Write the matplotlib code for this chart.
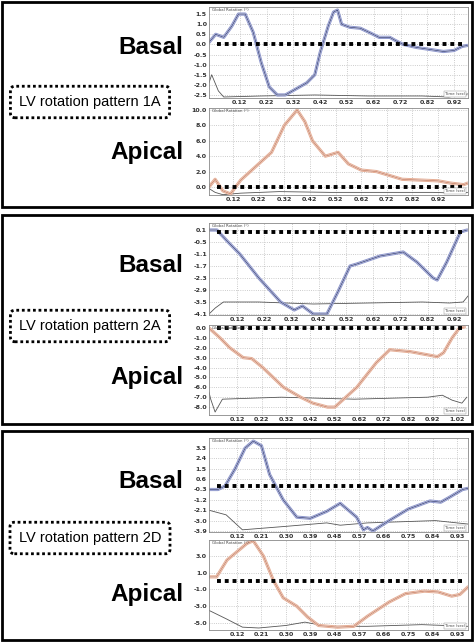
import matplotlib
matplotlib.use("Agg")
import matplotlib.pyplot as plt
import numpy as np
from matplotlib.patches import Rectangle

W, H = 474, 642
# ---- data ----
p1_basal_t = [0.005,0.03,0.06,0.09,0.115,0.14,0.17,0.2,0.23,0.26,0.29,0.33,0.37,0.40,0.42,0.45,0.47,0.485,0.50,0.53,0.57,0.61,0.64,0.68,0.70,0.73,0.78,0.83,0.88,0.92,0.95,0.97]
p1_basal_v = [0.1,0.5,0.35,0.9,1.5,1.5,0.6,-0.9,-2.1,-2.5,-2.5,-2.2,-1.9,-1.5,-0.4,0.9,1.6,1.7,1.0,0.85,0.8,0.55,0.35,0.35,0.2,0.0,-0.15,-0.25,-0.35,-0.3,-0.1,-0.05]
p1_basal_g_t = [0.005,0.015,0.04,0.06,0.2,0.4,0.6,0.8,0.9,0.95,0.97]
p1_basal_g_v = [-1.9,-1.5,-2.3,-2.6,-2.55,-2.5,-2.55,-2.55,-2.6,-2.5,-2.45]
p1_apical_t = [0.026,0.05,0.08,0.11,0.15,0.22,0.27,0.32,0.37,0.40,0.43,0.48,0.53,0.57,0.62,0.68,0.73,0.78,0.85,0.92,0.97,1.02,1.035]
p1_apical_v = [0.0,1.0,-0.5,-0.9,0.9,3.0,4.5,8.0,10.0,8.5,6.0,4.0,4.5,3.0,2.2,2.0,1.5,1.0,0.9,0.8,0.5,0.3,0.5]
p1_apical_g_t = [0.026,0.05,0.08,0.15,0.3,0.5,0.7,0.9,1.0,1.035]
p1_apical_g_v = [-0.2,-0.7,-1.0,-0.8,-0.6,-0.7,-0.7,-0.7,-0.8,-0.7]

p2_basal_t = [0.017,0.046,0.087,0.13,0.2,0.28,0.33,0.36,0.38,0.40,0.45,0.49,0.535,0.56,0.645,0.73,0.78,0.84,0.855,0.89,0.94,0.965]
p2_basal_v = [0.1,0.1,-0.5,-1.1,-2.3,-3.5,-3.9,-3.7,-3.9,-4.1,-4.1,-3.0,-1.7,-1.6,-1.2,-1.0,-1.5,-2.3,-2.4,-1.5,0.0,0.1]
p2_basal_g_t = [0.017,0.04,0.07,0.2,0.4,0.6,0.8,0.9,0.95,0.968]
p2_basal_g_v = [-4.1,-3.8,-3.5,-3.5,-3.6,-3.55,-3.5,-3.55,-3.5,-3.2]
p2_apical_t = [0.005,0.05,0.09,0.145,0.18,0.225,0.31,0.38,0.43,0.49,0.52,0.61,0.69,0.745,0.83,0.94,0.965,1.0,1.03,1.05]
p2_apical_v = [0.0,-1.0,-2.0,-3.0,-3.1,-4.0,-6.0,-7.0,-7.6,-8.0,-8.0,-6.0,-3.5,-2.2,-2.4,-2.9,-2.5,-1.0,0.0,0.1]
p2_apical_g_t = [0.005,0.012,0.03,0.06,0.3,0.6,0.9,0.96,1.0,1.04,1.06]
p2_apical_g_v = [-6.5,-7.2,-8.5,-7.2,-7.0,-7.2,-7.0,-6.8,-7.3,-7.6,-7.0]

p3_basal_t = [0.017,0.05,0.076,0.113,0.15,0.18,0.21,0.24,0.29,0.34,0.39,0.45,0.5,0.535,0.56,0.585,0.6,0.62,0.68,0.75,0.83,0.87,0.9,0.95,0.97]
p3_basal_v = [-0.3,-0.3,0.0,1.5,3.3,3.9,3.5,1.0,-1.2,-2.7,-2.8,-2.2,-1.5,-2.2,-2.7,-3.8,-3.6,-3.9,-3.0,-2.0,-1.3,-1.4,-1.0,-0.3,-0.2]
p3_basal_g_t = [0.017,0.08,0.14,0.3,0.45,0.5,0.6,0.85,0.97]
p3_basal_g_v = [-2.1,-2.5,-3.8,-3.5,-3.2,-3.4,-3.2,-3.0,-3.3]
p3_apical_t = [0.017,0.045,0.083,0.12,0.157,0.18,0.217,0.255,0.29,0.34,0.38,0.42,0.49,0.55,0.6,0.68,0.74,0.81,0.86,0.91,0.94,0.97]
p3_apical_v = [0.5,0.5,2.5,3.5,4.5,4.8,3.0,0.0,-2.0,-3.0,-4.3,-5.3,-5.5,-5.4,-4.2,-2.5,-1.5,-1.2,-1.3,-1.8,-1.6,-0.7]
p3_apical_g_t = [0.017,0.08,0.14,0.2,0.3,0.37,0.45,0.6,0.8,0.97]
p3_apical_g_v = [-3.5,-4.5,-5.5,-5.6,-5.3,-4.9,-5.4,-5.4,-5.2,-5.4]

p1_top_ticks = [0.12,0.22,0.32,0.42,0.52,0.62,0.72,0.82,0.92]
p1_top_yticks = [1.5,1.0,0.5,0.0,-0.5,-1.0,-1.5,-2.0,-2.5]
p1_bot_yticks = [10.0,8.0,6.0,4.0,2.0,0.0]
p2_top_yticks = [0.1,-0.5,-1.1,-1.7,-2.3,-2.9,-3.5,-4.1]
p2_bot_ticks = [0.12,0.22,0.32,0.42,0.52,0.62,0.72,0.82,0.92,1.02]
p2_bot_yticks = [0.0,-1.0,-2.0,-3.0,-4.0,-5.0,-6.0,-7.0,-8.0]
p3_ticks = [0.12,0.21,0.30,0.39,0.48,0.57,0.66,0.75,0.84,0.93]
p3_top_yticks = [3.3,2.4,1.5,0.6,-0.3,-1.2,-2.1,-3.0,-3.9]
p3_bot_yticks = [3.0,1.0,-1.0,-3.0,-5.0]

labels = ["LV rotation pattern 1A", "LV rotation pattern 2A", "LV rotation pattern 2D"]

fig = plt.figure(figsize=(W/100, H/100), dpi=100)
fig.patch.set_facecolor("white")

def fx(px): return px / W
def fy(py): return 1 - py / H

def add_ax(x0, y0, x1, y1, t, v, gt, gv, xlim, ylim, xt, yt, kind):
    ax = fig.add_axes([fx(x0), fy(y1), fx(x1) - fx(x0), (y1 - y0) / H])
    ax.set_facecolor("white")
    ax.set_xlim(*xlim); ax.set_ylim(*ylim)
    ax.set_xticks(xt); ax.set_yticks(yt)
    ax.set_xticklabels([f"{x:.2f}" for x in xt], fontsize=4.5, fontweight="bold", color="#333")
    ax.set_yticklabels([f"{y:.1f}" for y in yt], fontsize=4.5, fontweight="bold", color="#333")
    ax.tick_params(length=0, pad=1.5)
    ax.grid(True, color="#bbbbbb", linestyle=":", linewidth=0.6)
    for s in ax.spines.values():
        s.set_color("#888"); s.set_linewidth(0.6)
    if kind == "b":
        band, main = "#8d96cc", "#25306e"
    else:
        band, main = "#e6ae95", "#c4714f"
    ax.plot(gt, gv, color="#555", lw=0.6)
    ax.plot(t, v, color=band, lw=2.3, solid_capstyle="round", solid_joinstyle="round")
    ax.plot(t, v, color="#f4f4f8", lw=0.9, solid_joinstyle="round")
    ax.plot(t, v, color=main, lw=0.5, solid_joinstyle="round")
    ax.axhline(0, color="black", lw=2.8, linestyle=(0, (1, 1)), xmin=0.03, xmax=0.99)
    ax.text(0.01, 0.99, "Global Rotation (°)", transform=ax.transAxes, fontsize=2.8, va="top", color="#444")
    ax.text(0.99, 0.02, "Time (sec)", transform=ax.transAxes, fontsize=2.8, ha="right", va="bottom", color="#444",
            bbox=dict(boxstyle="square,pad=0.2", fc="white", ec="#888", lw=0.3))
    return ax

for (y0, y1) in [(2, 207), (215, 424), (431, 640)]:
    fig.patches.append(Rectangle((fx(2), fy(y1)), fx(470), (y1 - y0) / H, transform=fig.transFigure,
                                 fill=False, ec="black", lw=2))

add_ax(209, 7, 468, 98, p1_basal_t, p1_basal_v, p1_basal_g_t, p1_basal_g_v, (0.005, 0.972), (-2.65, 1.85), p1_top_ticks, p1_top_yticks, "b")
add_ax(209, 108, 468, 195, p1_apical_t, p1_apical_v, p1_apical_g_t, p1_apical_g_v, (0.026, 1.037), (-1.04, 10.26), p1_top_ticks, p1_bot_yticks, "a")
add_ax(209, 223, 468, 315, p2_basal_t, p2_basal_v, p2_basal_g_t, p2_basal_g_v, (0.017, 0.968), (-4.15, 0.45), p1_top_ticks, p2_top_yticks, "b")
add_ax(209, 325, 468, 415, p2_apical_t, p2_apical_v, p2_apical_g_t, p2_apical_g_v, (0.005, 1.065), (-8.8, 0.3), p2_bot_ticks, p2_bot_yticks, "a")
add_ax(209, 438, 468, 532, p3_basal_t, p3_basal_v, p3_basal_g_t, p3_basal_g_v, (0.017, 0.97), (-3.99, 4.17), p3_ticks, p3_top_yticks, "b")
add_ax(209, 540, 468, 630, p3_apical_t, p3_apical_v, p3_apical_g_t, p3_apical_g_v, (0.017, 0.97), (-5.84, 4.9), p3_ticks, p3_bot_yticks, "a")

for lab, (yb, ya, ybox) in zip(labels, [(47, 152, 102), (265, 378, 326), (482, 595, 538)]):
    fig.text(fx(151), fy(yb), "Basal", fontsize=17.5, fontweight="bold", ha="center", va="center", family="Liberation Sans")
    fig.text(fx(147), fy(ya), "Apical", fontsize=17.5, fontweight="bold", ha="center", va="center", family="Liberation Sans")
    fig.text(fx(90), fy(ybox), lab, fontsize=10.5, ha="center", va="center", family="Liberation Sans",
             bbox=dict(boxstyle="round,pad=0.6,rounding_size=0.3", fc="white", ec="black", lw=2, linestyle=(0, (1, 1))))

fig.savefig("out.png", dpi=100)
